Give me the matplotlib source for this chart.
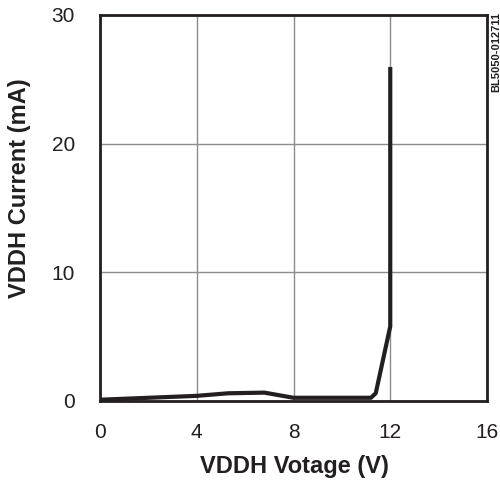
import matplotlib
matplotlib.use("Agg")
import matplotlib.pyplot as plt

plt.rcParams["font.family"] = ["Liberation Sans", "DejaVu Sans"]

# ---- data ----
voltage = [0, 4, 5.3, 6.8, 8, 11.2, 11.4, 12, 12]
current = [0.1, 0.4, 0.6, 0.65, 0.25, 0.25, 0.6, 5.8, 25.8]
x_ticks = [0, 4, 8, 12, 16]
y_ticks = [0, 10, 20, 30]

ink = "#231f20"
W, H = 500, 484

fig = plt.figure(figsize=(5.0, 4.84), dpi=100)
ax = fig.add_axes([100 / W, 1 - 401 / H, 387 / W, 386 / H])

ax.plot(voltage, current, color=ink, lw=3, solid_joinstyle="round", zorder=3)

ax.set_xlim(0, 16)
ax.set_ylim(0, 30)
ax.set_xticks(x_ticks)
ax.set_yticks(y_ticks)
ax.grid(True, color="#8c8c8c", lw=1)
ax.tick_params(length=0, labelsize=15, labelcolor=ink)
ax.tick_params(axis="x", pad=16)
ax.tick_params(axis="y", pad=18)
for s in ax.spines.values():
    s.set_linewidth(2)
    s.set_color(ink)

# axis titles placed by pixel position
fig.text(294 / W, 1 - 467 / H, "VDDH Votage (V)", ha="center", va="center",
         fontsize=17, fontweight="bold", color=ink)
fig.text(20 / W, 1 - 188 / H, "VDDH Current (mA)", rotation=90, ha="center", va="center",
         fontsize=17, fontweight="bold", color=ink)

fig.text(496 / W, 1 - 12 / H, "BL5050-012711", rotation=90, ha="center", va="top",
         fontsize=8, fontweight="bold", color=ink)

fig.savefig("out.png", dpi=100)
